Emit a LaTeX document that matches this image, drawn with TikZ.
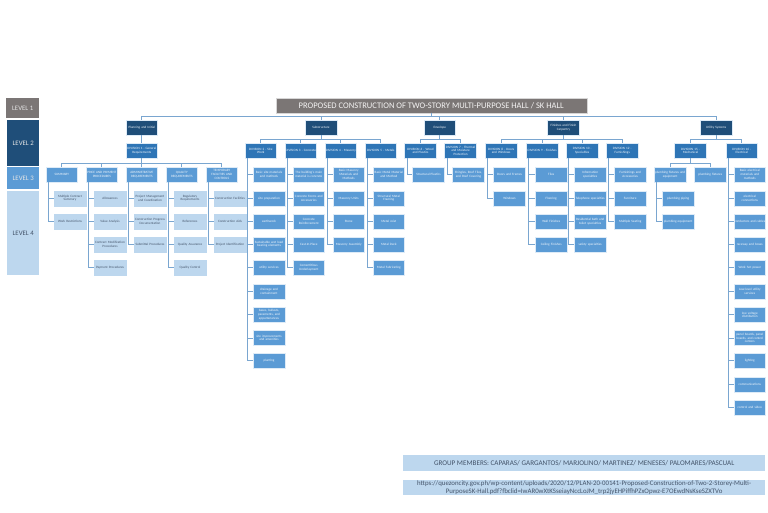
\documentclass[tikz,border=0pt]{standalone}
\usepackage{fontspec}
\setmainfont{Carlito}
\definecolor{dk}{HTML}{1F4E79}
\definecolor{md}{HTML}{2E75B6}
\definecolor{lt}{HTML}{5B9BD5}
\definecolor{pl}{HTML}{BDD7EE}
\definecolor{gy}{HTML}{7B7675}
\definecolor{cn}{HTML}{7AA6D0}
\definecolor{tx}{HTML}{44546A}
\newcommand{\nohy}{\hyphenpenalty=10000\relax\exhyphenpenalty=10000\relax}
\tikzset{
 bx/.style={rectangle,draw=white!80!lt,line width=.35pt,minimum width=31.7pt,minimum height=15pt,inner sep=.2pt,align=center,text width=31pt,font=\fontsize{3.3}{3.7}\selectfont,execute at begin node=\nohy,text=white!92!lt},
 bdk/.style={bx,fill=dk},
 bmd/.style={bx,fill=md},
 blt/.style={bx,fill=lt},
 bpl/.style={bx,fill=pl,draw=pl,text=tx},
 lvl/.style={rectangle,anchor=north west,inner sep=0,font=\fontsize{6.8}{7}\selectfont,text=white!90!black},
 con/.style={draw=cn,line width=1pt},
 notebox/.style={rectangle,fill=pl,inner sep=0,anchor=north west,minimum width=362.5pt,align=center,text=tx,font=\fontsize{7.15}{7.3}\selectfont},
}
\newcommand{\bus}[2]{\foreach \c in {#2}{\draw[con] (#1.south) -- ++(0,4.6) -| (\c.north);}}
\newcommand{\spn}[2]{\foreach \c in {#2}{\draw[con] ([xshift=2.6pt]#1.south west) |- (\c.west);}}
\begin{document}
\begin{tikzpicture}[x=1pt,y=-1pt]
\useasboundingbox (0,0) rectangle (768,512);
\def\ra{198.2}\def\rb{221.5}\def\rc{244.2}\def\rd{267.5}\def\re{291.2}\def\rf{314.8}\def\rg{338}\def\rh{360.8}\def\ri{384.5}\def\rj{407.5}
\def\ty{127.5}\def\dy{150.8}\def\cy{174.5}
% levels
\node[lvl,fill=gy,minimum width=33pt,minimum height=20pt] (l1) at (6,98) {LEVEL 1};
\node[lvl,fill=dk,minimum width=32pt,minimum height=46pt] (l2) at (7,120) {LEVEL 2};
\node[lvl,fill=lt,minimum width=32pt,minimum height=22pt] (l3) at (7,167) {LEVEL 3};
\node[lvl,fill=pl,minimum width=32pt,minimum height=84.5pt,text=tx] (l4) at (7,190.7) {LEVEL 4};
% title
\node[rectangle,fill=gy,draw=white!70!gy,line width=.3pt,minimum width=311pt,minimum height=14.4pt,inner sep=0,text=white!92!gy,font=\fontsize{8.55}{10}\selectfont] (title) at (431.2,105.5) {PROPOSED CONSTRUCTION OF TWO-STORY MULTI-PURPOSE HALL / SK HALL};
% level 2
\node[bdk] (a) at (141.8,\ty) {Planning and Initial};
\node[bdk] (b) at (321,\ty) {Substructure};
\node[bdk] (c) at (439.8,\ty) {Envelope};
\node[bdk] (d) at (563.5,\ty) {Finishes and Finish\\Carpentry};
\node[bdk] (e) at (716.2,\ty) {Utility Systems};
% divisions
\node[bmd] (a1) at (141.8,\dy) {DIVISION 1 - General\\Requirements};
\node[bmd] (b1) at (260.8,\dy) {DIVISION 2 - Site\\Work};
\node[bmd] (b2) at (300.8,\dy) {DIVISION 3 - Concrete};
\node[bmd] (b3) at (340.8,\dy) {DIVISION 4 - Masonry};
\node[bmd] (b4) at (380.8,\dy) {DIVISION 5 - Metals};
\node[bmd] (c1) at (420.5,\dy) {DIVISION 6 - Wood\\and Plastics};
\node[bmd] (c2) at (460.5,\dy) {DIVISION 7 - Thermal\\and Moisture\\Protection};
\node[bmd] (d1) at (501.2,\dy) {DIVISION 8 - Doors\\and Windows};
\node[bmd] (d2) at (542.2,\dy) {DIVISION 9 - Finishes};
\node[bmd] (d3) at (582.2,\dy) {DIVISION 10 -\\Specialties};
\node[bmd] (d4) at (622.2,\dy) {DIVISION 12 -\\Furnishings};
\node[bmd] (e1) at (690.5,\dy) {DIVISION 15 -\\Mechanical};
\node[bmd] (e2) at (741.8,\dy) {DIVISION 16 -\\Electrical};
% general requirements sections
\node[blt] (s1) at (61.8,\cy) {SUMMARY};
\node[blt] (s2) at (101.8,\cy) {PRICE AND PAYMENT\\PROCEDURES};
\node[blt] (s3) at (141.8,\cy) {ADMINISTRATIVE\\REQUIREMENTS};
\node[blt] (s4) at (181.8,\cy) {QUALITY\\REQUIREMENTS};
\node[blt] (s5) at (221.8,\cy) {TEMPORARY\\FACILITIES AND\\CONTROLS};
\node[bpl] (s1a) at (70,\ra) {Multiple Contract\\Summary};
\node[bpl] (s1b) at (70,\rb) {Work Restrictions};
\node[bpl] (s2a) at (110,\ra) {Allowances};
\node[bpl] (s2b) at (110,\rb) {Value Analysis};
\node[bpl] (s2c) at (110,\rc) {Contract Modification\\Procedures};
\node[bpl] (s2d) at (110,\rd) {Payment Procedures};
\node[bpl] (s3a) at (150,\ra) {Project Management\\and Coordination};
\node[bpl] (s3b) at (150,\rb) {Construction Progress\\Documentation};
\node[bpl] (s3c) at (150,\rc) {Submittal Procedures};
\node[bpl] (s4a) at (190,\ra) {Regulatory\\Requirements};
\node[bpl] (s4b) at (190,\rb) {References};
\node[bpl] (s4c) at (190,\rc) {Quality Assurance};
\node[bpl] (s4d) at (190,\rd) {Quality Control};
\node[bpl] (s5a) at (230,\ra) {Construction Facilities};
\node[bpl] (s5b) at (230,\rb) {Construction Aids};
\node[bpl] (s5c) at (230,\rc) {Project Identification};
% site work
\node[blt] (b1a) at (269,\cy) {Basic site materials\\and methods};
\node[blt] (b1b) at (269,\ra) {site preparation};
\node[blt] (b1c) at (269,\rb) {earthwork};
\node[blt] (b1d) at (269,\rc) {Sustainable wet load\\bearing elements};
\node[blt] (b1e) at (269,\rd) {utility services};
\node[blt] (b1f) at (269,\re) {drainage and\\containment};
\node[blt] (b1g) at (269,\rf) {bases, ballasts,\\pavements, and\\appurtenances};
\node[blt] (b1h) at (269,\rg) {site improvements\\and amenities};
\node[blt] (b1i) at (269,\rh) {planting};
% concrete
\node[blt] (b2a) at (308.8,\cy) {The building's main\\material is concrete};
\node[blt] (b2b) at (308.8,\ra) {Concrete Forms and\\Accessories};
\node[blt] (b2c) at (308.8,\rb) {Concrete\\Reinforcement};
\node[blt] (b2d) at (308.8,\rc) {Cast-In-Place};
\node[blt] (b2e) at (308.8,\rd) {Cementitious\\Underlayment};
% masonry
\node[blt] (b3a) at (348.7,\cy) {Basic Masonry\\Materials and\\Methods};
\node[blt] (b3b) at (348.7,\ra) {Masonry Units};
\node[blt] (b3c) at (348.7,\rb) {Stone};
\node[blt] (b3d) at (348.7,\rc) {Masonry Assembly};
% metals
\node[blt] (b4a) at (388.8,\cy) {Basic Metal Material\\and Method};
\node[blt] (b4b) at (388.8,\ra) {Structural Metal\\Framing};
\node[blt] (b4c) at (388.8,\rb) {Metal Joist};
\node[blt] (b4d) at (388.8,\rc) {Metal Deck};
\node[blt] (b4e) at (388.8,\rd) {Metal Fabricating};
% envelope
\node[blt] (c1a) at (428.5,\cy) {Structural Plastics};
\node[blt] (c2a) at (468.5,\cy) {Shingles, Roof Tiles,\\and Roof Covering};
% finishes
\node[blt] (d1a) at (509.5,\cy) {Doors and Frames};
\node[blt] (d1b) at (509.5,\ra) {Windows};
\node[blt] (d2a) at (551.2,\cy) {Tiles};
\node[blt] (d2b) at (551.2,\ra) {Flooring};
\node[blt] (d2c) at (551.2,\rb) {Wall Finishes};
\node[blt] (d2d) at (551.2,\rc) {Ceiling Finishes};
\node[blt] (d3a) at (590.2,\cy) {Information\\specialties};
\node[blt] (d3b) at (590.2,\ra) {Telephone specialties};
\node[blt] (d3c) at (590.2,\rb) {Residential bath and\\toilet specialties};
\node[blt] (d3d) at (590.2,\rc) {safety specialties};
\node[blt] (d4a) at (630.2,\cy) {Furnishings and\\Accessories};
\node[blt] (d4b) at (630.2,\ra) {Furniture};
\node[blt] (d4c) at (630.2,\rb) {Multiple Seating};
% mechanical
\node[blt] (e1a) at (670.2,\cy) {plumbing fixtures and\\equipment};
\node[blt] (e1b) at (710.2,\cy) {plumbing fixtures};
\node[blt] (e1c) at (678.2,\ra) {plumbing piping};
\node[blt] (e1d) at (678.2,\rb) {plumbing equipment};
% electrical
\node[blt] (e2a) at (749.8,\cy) {Basic electrical\\materials and\\methods};
\node[blt] (e2b) at (749.8,\ra) {electrical\\connections};
\node[blt] (e2c) at (749.8,\rb) {conductors and cables};
\node[blt] (e2d) at (749.8,\rc) {raceway and boxes};
\node[blt] (e2e) at (749.8,\rd) {Work hot power};
\node[blt] (e2f) at (749.8,\re) {Low-level utility\\services};
\node[blt] (e2g) at (749.8,\rf) {low voltage\\distribution};
\node[blt] (e2h) at (749.8,\rg) {panel boards, panel\\boards, and control\\centers};
\node[blt] (e2i) at (749.8,\rh) {lighting};
\node[blt] (e2j) at (749.8,\ri) {communications};
\node[blt] (e2k) at (749.8,\rj) {control and video};
% notes
\node[notebox,minimum height=16pt] (n1) at (402.7,455) {GROUP MEMBERS: CAPARAS/ GARGANTOS/ MARJOLINO/ MARTINEZ/ MENESES/ PALOMARES/PASCUAL};
\node[notebox,minimum height=15pt,font=\fontsize{6.85}{7.3}\selectfont] (n2) at (402.7,480) {https://quezoncity.gov.ph/wp-content/uploads/2020/12/PLAN-20-00141-Proposed-Construction-of-Two-2-Storey-Multi-\\PurposeSK-Hall.pdf?fbclid=IwAR0wXtKSseiayNccLoJM\_trp2jyEHPiffhPZxOpwz-E7OEwdNsKseSZXTVo};
% connectors
\foreach \c in {a,b,c,d,e}{\draw[con] (title.south) -- ++(0,3.6) -| (\c.north);}
\draw[con] (a) -- (a1);
\bus{a1}{s1,s2,s3,s4,s5}
\bus{b}{b1,b2,b3,b4}
\bus{c}{c1,c2}
\bus{d}{d1,d2,d3,d4}
\bus{e}{e1,e2}
\bus{e1}{e1a,e1b}
\spn{s1}{s1a,s1b}
\spn{s2}{s2a,s2b,s2c,s2d}
\spn{s3}{s3a,s3b,s3c}
\spn{s4}{s4a,s4b,s4c,s4d}
\spn{s5}{s5a,s5b,s5c}
\spn{b1}{b1a,b1b,b1c,b1d,b1e,b1f,b1g,b1h,b1i}
\spn{b2}{b2a,b2b,b2c,b2d,b2e}
\spn{b3}{b3a,b3b,b3c,b3d}
\spn{b4}{b4a,b4b,b4c,b4d,b4e}
\spn{c1}{c1a}
\spn{c2}{c2a}
\spn{d1}{d1a,d1b}
\spn{d2}{d2a,d2b,d2c,d2d}
\spn{d3}{d3a,d3b,d3c,d3d}
\spn{d4}{d4a,d4b,d4c}
\spn{e1a}{e1c,e1d}
\spn{e2}{e2a,e2b,e2c,e2d,e2e,e2f,e2g,e2h,e2i,e2j,e2k}
\end{tikzpicture}
\end{document}
